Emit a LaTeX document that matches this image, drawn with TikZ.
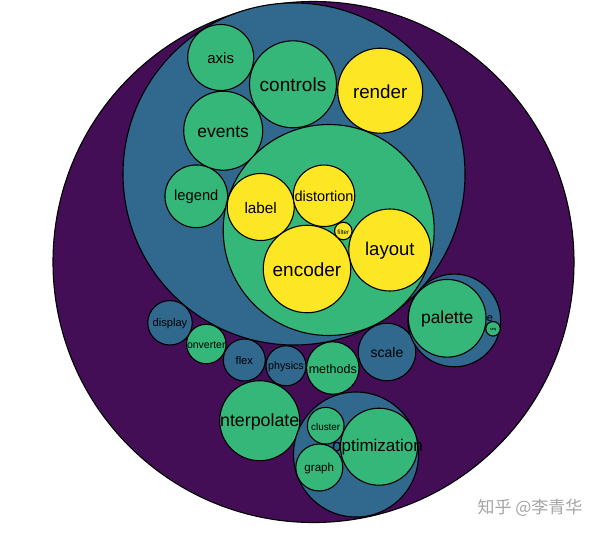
\documentclass[tikz,border=0pt]{standalone}
\usepackage{fontspec}
\setmainfont{Liberation Sans}
\newfontfamily\cjk{Noto Sans CJK SC}
\definecolor{cA}{HTML}{440E57}
\definecolor{cB}{HTML}{31688E}
\definecolor{cC}{HTML}{35B779}
\definecolor{cD}{HTML}{FDE725}
\tikzset{x=1pt,y=-1pt,
 bub/.style={circle,draw=black,line width=1.1pt,inner sep=0pt},
 a/.style={bub,fill=cA},b/.style={bub,fill=cB},c/.style={bub,fill=cC},d/.style={bub,fill=cD}}
% style, name, x, y, diameter, font size, text: the text may overflow the circle
\newcommand{\bb}[7]{\node[#1,minimum size=#5pt,label={[inner sep=0pt,yshift=-0.8pt,text=black,font=\fontsize{#6}{#6}\selectfont]center:#7}] (#2) at (#3,#4) {};}
\begin{document}
\begin{tikzpicture}
\useasboundingbox (0,0) rectangle (600,533);
\fill[white] (0,0) rectangle (600,533);
\bb{a}{root}{313.5}{262}{521}{8}{}
\bb{b}{vis}{294}{174}{342}{8}{}
\bb{c}{axis}{220.7}{57.5}{66}{15}{axis}
\bb{c}{controls}{293}{84.3}{87}{19}{controls}
\bb{d}{render}{380.2}{90.7}{85}{18.8}{render}
\bb{c}{events}{223.2}{130.7}{79}{17.5}{events}
\bb{c}{legend}{196.3}{196.3}{62.7}{14.7}{legend}
\bb{c}{core}{328.7}{230}{211}{8}{}
\bb{d}{label}{260.7}{207}{67}{15.3}{label}
\bb{d}{distortion}{324}{195.8}{61.5}{14.5}{distortion}
\bb{d}{filter}{343.3}{231}{17.5}{6.2}{filter}
\bb{d}{layout}{389.8}{250}{82}{18.5}{layout}
\bb{d}{encoder}{307}{269}{87.5}{19}{encoder}
\bb{b}{display}{170}{322.8}{44.5}{11.1}{display}
\bb{c}{converter}{206.3}{344}{39.5}{10.5}{onverter}
\bb{b}{flex}{244.3}{360}{42}{11.1}{flex}
\bb{b}{physics}{286}{365.8}{40}{10.7}{physics}
\bb{c}{methods}{332.8}{368}{52.5}{12.5}{methods}
\bb{b}{scale}{387}{352}{57.5}{14}{scale}
\bb{b}{pal}{454.3}{320.4}{92.7}{8}{}
\bb{c}{palette}{447.2}{318.3}{77.7}{17.4}{palette}
\node[font=\fontsize{11}{11}\selectfont,text=black] (e) at (490,319) {e};
\bb{c}{small}{493}{328.8}{14.5}{4}{seq}
\bb{c}{interpolate}{259.7}{420.7}{80}{17.8}{nterpolate}
\bb{b}{opt}{356}{454.5}{125}{8}{}
\bb{c}{cluster}{325.7}{425.7}{36.7}{9.85}{cluster}
\bb{c}{optimization}{379}{446.7}{77}{17}{}
\bb{c}{graph}{319.3}{467.5}{47}{11.6}{graph}
\node[font=\fontsize{17}{17}\selectfont,text=black,inner sep=0pt] (optlabel) at (377.5,447.5) {optimization};
\node[font=\fontsize{17}{17}\cjk,text=black!35,inner sep=0pt] (wm) at (530,508) {知乎 @李青华};
\end{tikzpicture}
\end{document}
